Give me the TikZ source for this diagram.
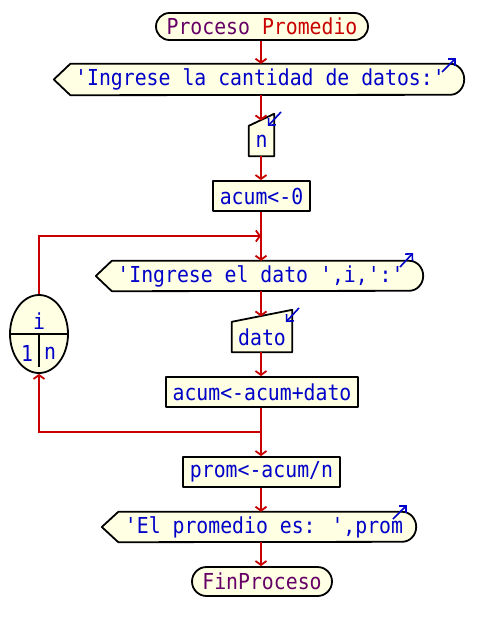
\documentclass[tikz,border=0pt]{standalone}
\usepackage{fontspec}
\newfontfamily\psfont[FakeStretch=0.9]{DejaVu Sans Mono}
\usetikzlibrary{shapes.geometric,shapes.misc,arrows.meta}
\definecolor{psblue}{RGB}{0,0,200}
\definecolor{pspurple}{RGB}{102,0,102}
\definecolor{psred}{RGB}{200,0,0}
\definecolor{psfill}{RGB}{255,255,228}
\tikzset{
  txt/.style={font=\psfont\fontsize{22}{24}\selectfont, text=psblue, inner sep=0pt},
  shp/.style={draw=black, line width=1.8pt, fill=psfill, line join=round},
  procbox/.style={txt, shp, rectangle},
  termbox/.style={txt, shp, rounded rectangle},
  holder/.style={txt, rectangle, draw=none},
  flow/.style={draw=psred, line width=1.8pt, -{Straight Barb[length=4pt,width=11pt]}},
  icon/.style={draw=psblue, line width=1.6pt, -{Straight Barb[length=5pt,width=10pt]}},
}
\begin{document}
\begin{tikzpicture}[x=1pt,y=-1pt]
\useasboundingbox (0,0) rectangle (488,632);
\coordinate (ax) at (261,0);

% start
\node[termbox, minimum width=212pt, minimum height=27pt] (start) at (262,26.5)
  {\color{pspurple}Proceso \color{psred}Promedio};

% output 1
\node[holder, minimum width=410pt, minimum height=31pt] (out1) at (259,79.5) {};
\path[shp] (out1.west) -- ([xshift=16.5pt]out1.north west) -- ([xshift=-14pt]out1.north east)
  arc[start angle=90, end angle=-90, x radius=14pt, y radius=15.5pt]
  -- ([xshift=16.5pt]out1.south west) -- cycle;
\node[holder] (out1t) at (out1.center) {\hspace*{2pt}'Ingrese la cantidad de datos:'};
\draw[icon] (442,72) -- (456,58);

% input n
\node[holder, minimum width=25pt, minimum height=42pt] (in1) at (261.5,135) {};
\path[shp] (in1.south west) -- ([yshift=-12pt]in1.north west) -- (in1.north east) -- (in1.south east) -- cycle;
\node[txt] (in1t) at (261.5,141) {n};
\draw[icon] (281,112) -- (268,126);
\coordinate (in1top) at (261,120.5);

% acum<-0
\node[procbox, minimum width=97pt, minimum height=30pt] (a0) at (261.5,196) {acum<-0};

% loop merge
\coordinate (m1) at (261,236);

% output 2
\node[holder, minimum width=327pt, minimum height=30pt] (out2) at (259.5,276) {};
\path[shp] (out2.west) -- ([xshift=16pt]out2.north west) -- ([xshift=-14pt]out2.north east)
  arc[start angle=90, end angle=-90, x radius=14pt, y radius=15pt]
  -- ([xshift=16pt]out2.south west) -- cycle;
\node[holder] (out2t) at ([xshift=1pt]out2.center) {'Ingrese el dato ',i,':'};
\draw[icon] (400,267) -- (413,253);

% for loop ellipse
\node[txt, shp, ellipse, minimum width=58pt, minimum height=78pt] (loop) at (39,334) {};
\draw[black, line width=1.8pt] (loop.west) -- (loop.east);
\draw[black, line width=1.8pt] (loop.center) -- ([yshift=-33pt]loop.center);
\node[txt] (loopi) at (39,321.5) {i};
\node[txt] (loop1) at (27,353) {1};
\node[txt] (loopn) at (50,353) {n};

% input dato
\node[holder, minimum width=60pt, minimum height=42pt] (in2) at (262,331) {};
\path[shp] (in2.south west) -- ([yshift=-12pt]in2.north west) -- (in2.north east) -- (in2.south east) -- cycle;
\node[txt] (in2t) at (262,337) {dato};
\draw[icon] (299,308) -- (286,322);
\coordinate (in2top) at (261,316.5);

% acum<-acum+dato
\node[procbox, minimum width=192pt, minimum height=30pt] (a1) at (262,392) {acum<-acum+dato};

\coordinate (m2) at (261,432);

% prom<-acum/n
\node[procbox, minimum width=157pt, minimum height=30pt] (a2) at (261.5,472) {prom<-acum/n};

% output 3
\node[holder, minimum width=314pt, minimum height=30pt] (out3) at (259,527) {};
\path[shp] (out3.west) -- ([xshift=16.5pt]out3.north west) -- ([xshift=-14pt]out3.north east)
  arc[start angle=90, end angle=-90, x radius=14pt, y radius=15pt]
  -- ([xshift=16.5pt]out3.south west) -- cycle;
\node[holder] (out3t) at ([xshift=5pt]out3.center) {'El promedio es: ',prom};
\draw[icon] (393,519) -- (407,505);

% end
\node[termbox, minimum width=140pt, minimum height=29pt] (end) at (262,581.5)
  {\color{pspurple}FinProceso};

% connectors
\draw[flow] (start.south -| ax) -- (out1.north -| ax);
\draw[flow] (out1.south -| ax) -- (in1top);
\draw[flow] (in1.south -| ax) -- (a0.north -| ax);
\draw[flow] (a0.south -| ax) -- (out2.north -| ax);
\draw[flow] (loop.north) |- (m1);
\draw[flow] (out2.south -| ax) -- (in2top);
\draw[flow] (in2.south -| ax) -- (a1.north -| ax);
\draw[flow] (a1.south -| ax) -- (a2.north -| ax);
\draw[flow] (m2) -| (loop.south);
\draw[flow] (a2.south -| ax) -- (out3.north -| ax);
\draw[flow] (out3.south -| ax) -- (end.north -| ax);
\end{tikzpicture}
\end{document}
